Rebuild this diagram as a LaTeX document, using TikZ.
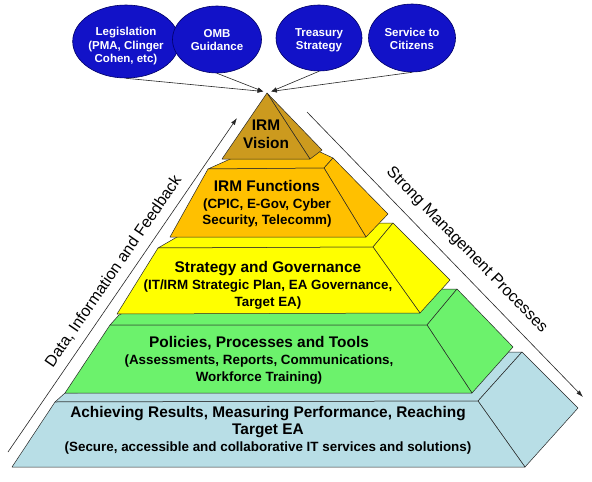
\documentclass[tikz,border=0pt]{standalone}
\usepackage{fontspec}
\setmainfont{Liberation Sans}
\usetikzlibrary{shapes.geometric,arrows.meta}
\definecolor{viscol}{HTML}{CC9A1E}
\definecolor{funcol}{HTML}{FFC000}
\definecolor{stracol}{HTML}{FFFF00}
\definecolor{polcol}{HTML}{6CF26C}
\definecolor{achcol}{HTML}{B8DEE6}
\definecolor{bubblue}{HTML}{1212C8}
\definecolor{bubedge}{HTML}{000066}
\newcommand{\bubtext}[2]{\raisebox{#1}[\height][\depth]{\begin{tabular}{@{}c@{}}#2\end{tabular}}}
\begin{document}
\begin{tikzpicture}[x=1pt,y=-1pt,
  face/.style={draw=black!85, line width=0.5pt, line join=round},
  bub/.style={ellipse, fill=bubblue, draw=bubedge, line width=0.6pt, text=white,
    font=\fontsize{11.5}{13.5}\selectfont\bfseries, align=center, inner sep=0pt},
  tiertext/.style={align=center, font=\fontsize{13.4}{16.8}\selectfont\bfseries, inner sep=0pt},
  bigarrow/.style={draw=black!85, line width=0.6pt, -{Latex[length=7pt,width=4.5pt]}},
  feeder/.style={draw=black!85, line width=0.6pt, -{Latex[length=6pt,width=4pt]}},
  sidelabel/.style={font=\fontsize{16}{18}\selectfont, inner sep=0pt}]
\useasboundingbox (0,0) rectangle (592,482);
\fill[white] (0,0) rectangle (592,482);

% Tier 5: Achieving Results
\filldraw[face, fill=achcol] (55,402) -- (65,393) -- (460,385) -- (495,352) -- (522,352) -- (478,401) -- cycle;
\filldraw[face, fill=achcol] (478,401) -- (522,352) -- (578,408) -- (525,467) -- cycle;
\filldraw[face, fill=achcol] (55,402) -- (478,401) -- (525,467) -- (12,467) -- cycle;

% Tier 4: Policies
\filldraw[face, fill=polcol] (110,325) -- (119,315) -- (140,305) -- (390,300) -- (435,289) -- (457,289) -- (427,325) -- cycle;
\filldraw[face, fill=polcol] (427,325) -- (457,289) -- (513,347) -- (472,393) -- cycle;
\filldraw[face, fill=polcol] (110,325) -- (427,325) -- (472,393) -- (65,393) -- cycle;

% Tier 3: Strategy
\filldraw[face, fill=stracol] (158,248) -- (177,237) -- (200,228) -- (340,225) -- (375,223) -- (393,223) -- (373,247) -- cycle;
\filldraw[face, fill=stracol] (373,247) -- (393,223) -- (450,280) -- (420,313) -- cycle;
\filldraw[face, fill=stracol] (158,248) -- (373,247) -- (420,313) -- (117,314) -- cycle;

% Tier 2: IRM Functions
\filldraw[face, fill=funcol] (208,169) -- (228,160) -- (250,150) -- (318,151) -- (333,158) -- (324,168) -- cycle;
\filldraw[face, fill=funcol] (324,168) -- (333,158) -- (388,214) -- (366,237) -- cycle;
\filldraw[face, fill=funcol] (208,169) -- (324,168) -- (366,237) -- (170,237) -- cycle;

% Tier 1: IRM Vision
\filldraw[face, fill=viscol] (267,93) -- (310,159) -- (322,150) -- cycle;
\filldraw[face, fill=viscol] (267,93) -- (222,159) -- (310,159) -- cycle;

% Tier texts
\node[tiertext, font=\fontsize{15.4}{18}\selectfont\bfseries] (tvis) at (266,134) {IRM\\Vision};
\node[tiertext] (tfun) at (267,204) {{\fontsize{15.4}{17}\selectfont IRM Functions}\\(CPIC, E-Gov, Cyber\\Security, Telecomm)};
\node[tiertext] (tstr) at (268,285.5) {{\fontsize{15.4}{17}\selectfont Strategy and Governance}\\(IT/IRM Strategic Plan, EA Governance,\\Target EA)};
\node[tiertext] (tpol) at (259,360.5) {{\fontsize{15.4}{17}\selectfont Policies, Processes and Tools}\\(Assessments, Reports, Communications,\\Workforce Training)};
\node[tiertext] (tach) at (268,430.5) {{\fontsize{15.4}{18}\selectfont Achieving Results, Measuring Performance, Reaching}\\{\fontsize{15.4}{18}\selectfont Target EA}\\(Secure, accessible and collaborative IT services and solutions)};

% Ellipses
\node[bub, minimum width=88pt, minimum height=73pt] (leg) at (126,41.5) {\bubtext{-5pt}{Legislation\\(PMA, Clinger\\Cohen, etc)}};
\node[bub, minimum width=89pt, minimum height=67pt] (omb) at (217,39.5) {\bubtext{-2pt}{OMB\\Guidance}};
\node[bub, minimum width=86pt, minimum height=66pt] (tre) at (319,38) {\bubtext{-2.5pt}{Treasury\\Strategy}};
\node[bub, minimum width=87pt, minimum height=68pt] (ser) at (412,38) {\bubtext{-2.5pt}{Service to\\Citizens}};

% Apex targets
\coordinate (tipL) at (263.5,91.5);
\coordinate (tipR) at (271,91.5);
\draw[feeder] (leg.south) -- (tipL);
\draw[feeder] (omb.south) -- (tipL);
\draw[feeder] (tre.south) -- (tipR);
\draw[feeder] (ser.south) -- (tipR);

% Side arrows
\coordinate (la) at (8,452);
\coordinate (lb) at (237,118);
\coordinate (ra) at (307,112);
\coordinate (rb) at (583,397);
\draw[bigarrow] (la) -- (lb) node[pos=0.515, sloped, above=8pt, sidelabel] (ldata) {Data, Information and Feedback};
\draw[bigarrow] (ra) -- (rb) node[pos=0.53, sloped, above=11pt, sidelabel] (rstrong) {Strong Management Processes};
\end{tikzpicture}
\end{document}
